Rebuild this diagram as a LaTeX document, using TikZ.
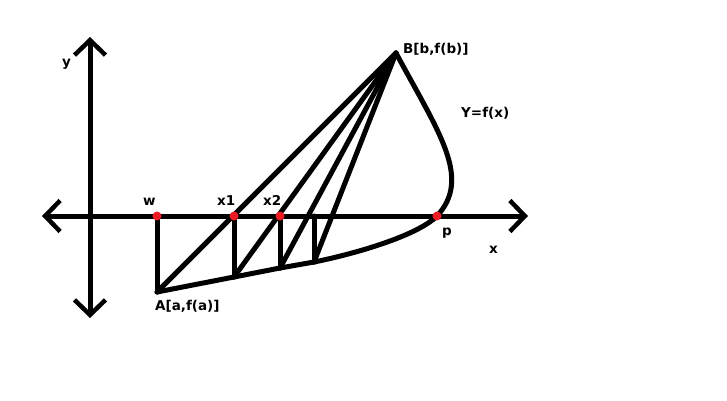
\documentclass[tikz,border=0pt]{standalone}
\usepackage{fontspec}
\setmainfont{DejaVu Sans}
\usetikzlibrary{arrows.meta}
\definecolor{dotred}{HTML}{ED1C24}
\begin{document}
\begin{tikzpicture}[x=1pt,y=-1pt,
  thick line/.style={line width=5pt,line cap=round,line join=round},
  axis/.style={thick line,{Straight Barb[length=15pt,width=31pt,line width=4.5pt]}-{Straight Barb[length=15pt,width=31pt,line width=4.5pt]}},
  lbl/.style={font=\fontsize{13.5}{16}\selectfont\bfseries,inner sep=0pt,anchor=base west},
  dot/.style={fill=dotred,circle,inner sep=0pt,minimum size=9pt}]
\useasboundingbox (0,0) rectangle (727,400);
% coordinates
\coordinate (yt) at (90,37);
\coordinate (yb) at (90,318);
\coordinate (xl) at (42,216);
\coordinate (xr) at (528,216);
\coordinate (W) at (157,216);
\coordinate (X1) at (234,216);
\coordinate (X2) at (280,216);
\coordinate (X3) at (314,216);
\coordinate (P) at (437,216);
\coordinate (A) at (157,292);
\coordinate (B1) at (234,277);
\coordinate (B2) at (280,268);
\coordinate (B3) at (314,262);
\coordinate (B) at (396,53);
% axes
\draw[axis] (yb) -- (yt);
\draw[axis] (xl) -- (xr);
% verticals
\draw[thick line] (W) -- (A);
\draw[thick line] (X1) -- (B1);
\draw[thick line] (X2) -- (B2);
\draw[thick line] (X3) -- (B3);
% chords to B
\draw[thick line] (A) -- (B);
\draw[thick line] (B1) -- (B);
\draw[thick line] (B2) -- (B);
\draw[thick line] (B3) -- (B);
% curve y=f(x)
\draw[thick line] (A) -- (B1) -- (B2) -- (B3)
  .. controls (354,254) and (417,236) .. (P)
  .. controls (472,178) and (439,133) .. (B);
% dots
\node[dot] (dw) at (W) {};
\node[dot] (dx1) at (X1) {};
\node[dot] (dx2) at (X2) {};
\node[dot] (dp) at (P) {};
% labels
\node[lbl] (ly) at (62,66) {y};
\node[lbl] (lw) at (143,205) {w};
\node[lbl] (lx1) at (217,205) {x1};
\node[lbl] (lx2) at (263,205) {x2};
\node[lbl] (lB) at (403,53) {B[b,f(b)]};
\node[lbl] (lY) at (461,117) {Y=f(x)};
\node[lbl] (lp) at (442,235) {p};
\node[lbl] (lx) at (489,253) {x};
\node[lbl] (lA) at (155,310) {A[a,f(a)]};
\end{tikzpicture}
\end{document}
